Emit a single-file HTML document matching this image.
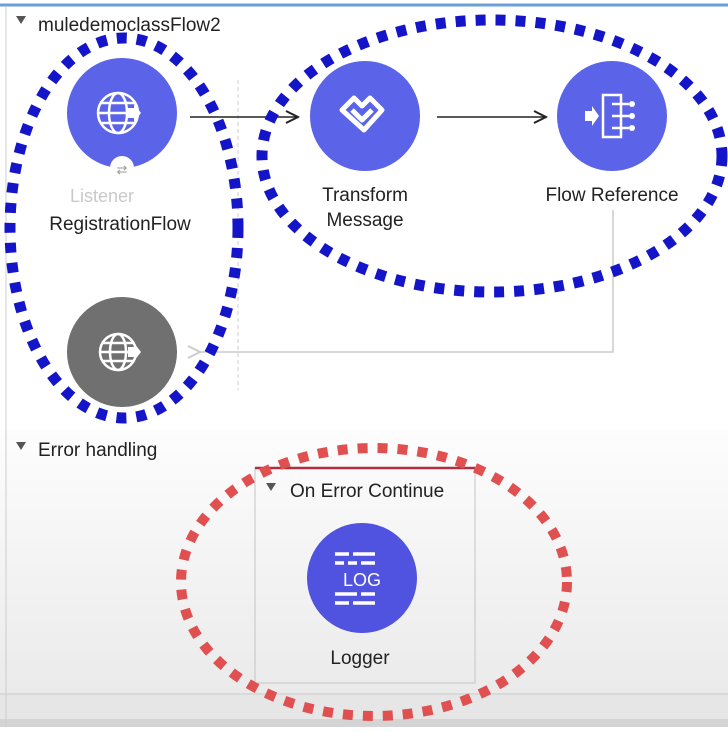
<!DOCTYPE html>
<html><head><style>
body{margin:0;width:728px;height:727px;overflow:hidden;background:#fff;font-family:"Liberation Sans",sans-serif}
</style></head><body>
<svg width="728" height="727" xmlns="http://www.w3.org/2000/svg" font-family="Liberation Sans, sans-serif">
<defs>
<linearGradient id="g" x1="0" y1="0" x2="0" y2="1"><stop offset="0" stop-color="#fdfdfd"/><stop offset="1" stop-color="#e8e8e8"/></linearGradient>
<marker id="a" markerWidth="10" markerHeight="10" refX="9" refY="5" orient="auto"><path d="M1 1L9 5L1 9" fill="none" stroke="#222" stroke-width="1.3"/></marker>
<marker id="b" markerWidth="10" markerHeight="10" refX="1" refY="5" orient="auto"><path d="M9 1L1 5L9 9" fill="none" stroke="#ccc" stroke-width="1.3"/></marker>
</defs>
<rect x="0" y="0" width="728" height="727" fill="#fff"/>
<rect x="0" y="430" width="728" height="297" fill="url(#g)"/>
<rect x="0" y="695" width="728" height="32" fill="#e6e6e6"/>
<line x1="0" y1="694" x2="728" y2="694" stroke="#c8c8c8"/>
<rect x="0" y="719" width="728" height="8" fill="#d4d4d4"/>
<line x1="0" y1="5" x2="728" y2="5" stroke="#6aa0d8" stroke-width="3"/>
<line x1="6" y1="6" x2="6" y2="727" stroke="#ccc"/>
<path d="M16 16h10l-5 8z" fill="#555"/>
<text x="38" y="31" font-size="19" fill="#222">muledemoclassFlow2</text>
<path d="M16 442h10l-5 8z" fill="#555"/>
<text x="38" y="456" font-size="19" fill="#222">Error handling</text>
<line x1="238" y1="80" x2="238" y2="390" stroke="#ccc" stroke-dasharray="4,3"/>
<path d="M613 210V352H200" fill="none" stroke="#ccc" stroke-width="1.5" marker-end="url(#b)"/>
<line x1="190" y1="117" x2="298" y2="117" stroke="#222" stroke-width="1.5" marker-end="url(#a)"/>
<line x1="437" y1="117" x2="546" y2="117" stroke="#222" stroke-width="1.5" marker-end="url(#a)"/>
<circle cx="122" cy="113" r="55" fill="#5b63e8"/>
<circle cx="122" cy="168" r="12" fill="#fff"/>
<text x="122" y="174" font-size="13" fill="#999" text-anchor="middle">⇄</text>
<g fill="none" stroke="#fff" stroke-width="2.5"><circle cx="118" cy="113" r="20"/><ellipse cx="118" cy="113" rx="9" ry="20"/><line x1="98" y1="113" x2="138" y2="113"/><line x1="101" y1="103" x2="135" y2="103"/><line x1="101" y1="123" x2="135" y2="123"/></g>
<path d="M128 108h6v-4l7 9-7 9v-4h-6z" fill="#fff"/>
<text x="102" y="202" font-size="18" fill="#c9c9c9" text-anchor="middle">Listener</text>
<text x="120" y="230" font-size="19" fill="#222" text-anchor="middle">RegistrationFlow</text>
<circle cx="365" cy="116" r="55" fill="#5b63e8"/>
<path d="M342 110l12-12 8 8 8-8 12 12-18 20z M352 110l10 10 10-10" fill="none" stroke="#fff" stroke-width="5" stroke-linejoin="round"/>
<text x="365" y="201" font-size="19" fill="#222" text-anchor="middle">Transform</text>
<text x="365" y="226" font-size="19" fill="#222" text-anchor="middle">Message</text>
<circle cx="612" cy="116" r="55" fill="#5b63e8"/>
<path d="M585 111h7v-5l7 10-7 10v-5h-7z" fill="#fff"/>
<g stroke="#fff" stroke-width="2.5" fill="none"><rect x="603" y="95" width="18" height="42"/><path d="M621 116h8M621 104h8M621 128h8M612 116h9M612 104h9M612 128h9"/></g>
<g fill="#fff"><circle cx="632" cy="104" r="3"/><circle cx="632" cy="116" r="3"/><circle cx="632" cy="128" r="3"/></g>
<text x="612" y="201" font-size="19" fill="#222" text-anchor="middle">Flow Reference</text>
<circle cx="122" cy="352" r="55" fill="#707070"/>
<g fill="none" stroke="#fff" stroke-width="2.5"><circle cx="118" cy="352" r="18"/><ellipse cx="118" cy="352" rx="8" ry="18"/><line x1="100" y1="352" x2="136" y2="352"/><line x1="103" y1="343" x2="133" y2="343"/><line x1="103" y1="361" x2="133" y2="361"/></g>
<path d="M128 347h6v-4l7 9-7 9v-4h-6z" fill="#fff"/>
<rect x="255" y="468" width="220" height="215" fill="none" stroke="#c4c4c4"/>
<line x1="255" y1="468" x2="475" y2="468" stroke="#b03040" stroke-width="2.5"/>
<path d="M266 483h10l-5 8z" fill="#555"/>
<text x="290" y="497" font-size="19" fill="#222">On Error Continue</text>
<circle cx="362" cy="578" r="55" fill="#5052e0"/>
<g stroke="#fff" stroke-width="3.5"><path d="M335 554h14M353 554h22M335 563h9M348 563h9M361 563h14M335 594h22M361 594h14M335 603h14M353 603h22"/></g>
<text x="362" y="586" font-size="18" fill="#fff" text-anchor="middle">LOG</text>
<text x="360" y="664" font-size="19" fill="#222" text-anchor="middle">Logger</text>
<g fill="none" stroke-width="11" stroke-dasharray="10,10">
<ellipse cx="124" cy="228" rx="114" ry="190" stroke="#1414c8"/>
<ellipse cx="492" cy="156" rx="230" ry="136" stroke="#1414c8"/>
<ellipse cx="374" cy="582" rx="193" ry="134" stroke="#e05050" stroke-width="10"/>
</g>
</svg>
</body></html>
